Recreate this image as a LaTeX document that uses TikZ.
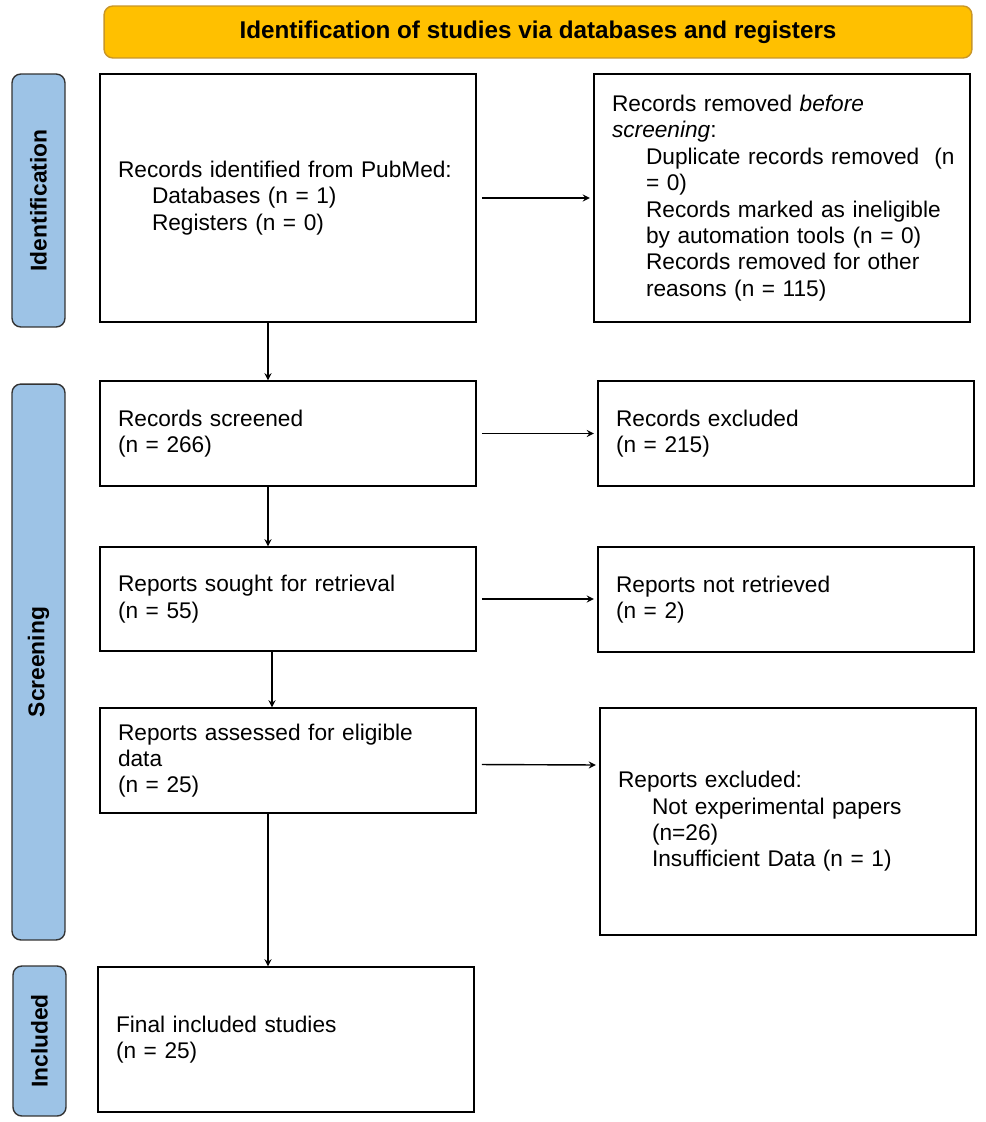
\documentclass[tikz,border=0pt]{standalone}
\usepackage{fontspec}
\setmainfont{Liberation Sans}
\usetikzlibrary{arrows}
\definecolor{hdrcolor}{RGB}{255,192,0}
\definecolor{hdrline}{RGB}{200,150,40}
\definecolor{sidecolor}{RGB}{157,195,230}
\newcommand{\ind}{\hspace*{1.5em}}

\begin{document}
\begin{tikzpicture}[>=stealth,x=0.02cm,y=-0.02cm,
  box/.style={draw,thick,align=left,inner sep=0pt,text width=#1,
    font=\fontsize{12.9}{15}\selectfont},
  side/.style={draw=black!80,thick,fill=sidecolor,rounded corners=5pt,
    minimum height=1.06cm,rotate=90,font=\bfseries\fontsize{13}{15}\selectfont},
  arr/.style={->,thick,shorten <=3pt,shorten >=2pt}]
\useasboundingbox (0,0) rectangle (986,1122);
\node[draw=hdrline,thick,fill=hdrcolor,rounded corners=5pt,minimum width=17.36cm,
  minimum height=1.04cm,font=\bfseries\fontsize{13.8}{16}\selectfont] (hdr) at (538,32)
  {Identification of studies via databases and registers};
\node[side,minimum width=5.06cm] (sid) at (38.5,200.5) {Identification};
\node[side,minimum width=11.12cm] (ssc) at (38.5,662) {Screening};
\node[side,minimum width=3.0cm] (sin) at (39.5,1041) {Included};
\node[box=7.52cm,minimum height=4.96cm] (ident) at (288,198)
  {\hspace*{0.36cm}Records identified from PubMed:\\
   \hspace*{0.36cm}\ind Databases (n = 1)\\
   \hspace*{0.36cm}\ind Registers (n = 0)};
\node[box=7.52cm,minimum height=4.96cm] (removed) at (782,198)
  {\hspace*{0.36cm}Records removed \emph{before}\\
   \hspace*{0.36cm}\emph{screening}:\\
   \hspace*{0.36cm}\ind Duplicate records removed\ \ (n\\
   \hspace*{0.36cm}\ind = 0)\\
   \hspace*{0.36cm}\ind Records marked as ineligible\\
   \hspace*{0.36cm}\ind by automation tools (n = 0)\\
   \hspace*{0.36cm}\ind Records removed for other\\
   \hspace*{0.36cm}\ind reasons (n = 115)};
\node[box=7.52cm,minimum height=2.1cm] (screened) at (288,433.5)
  {\hspace*{0.36cm}Records screened\\ \hspace*{0.36cm}(n = 266)};
\node[box=7.52cm,minimum height=2.1cm] (excl) at (786,433.5)
  {\hspace*{0.36cm}Records excluded\\ \hspace*{0.36cm}(n = 215)};
\node[box=7.52cm,minimum height=2.08cm] (sought) at (288,599)
  {\hspace*{0.36cm}Reports sought for retrieval\\ \hspace*{0.36cm}(n = 55)};
\node[box=7.52cm,minimum height=2.1cm] (notret) at (786,599.5)
  {\hspace*{0.36cm}Reports not retrieved\\ \hspace*{0.36cm}(n = 2)};
\node[box=7.52cm,minimum height=2.1cm] (assessed) at (288,760.5)
  {\hspace*{0.36cm}Reports assessed for eligible\\ \hspace*{0.36cm}data\\
   \hspace*{0.36cm}(n = 25)};
\node[box=7.52cm,minimum height=4.54cm] (repexcl) at (788,821.5)
  {\hspace*{0.36cm}Reports excluded:\\
   \hspace*{0.36cm}\ind Not experimental papers\\
   \hspace*{0.36cm}\ind (n=26)\\
   \hspace*{0.36cm}\ind Insufficient Data (n = 1)};
\node[box=7.52cm,minimum height=2.9cm] (final) at (286,1039.5)
  {\hspace*{0.36cm}Final included studies\\ \hspace*{0.36cm}(n = 25)};
\draw[arr] (ident.east) -- (removed.west);
\draw[arr] (screened.east) -- (excl.west |- screened.east);
\draw[arr] (sought.east) -- (notret.west |- sought.east);
\draw[arr] ([yshift=-0.08cm]assessed.east) -- (repexcl.west |- 0,765);
\draw[->,thick] (ident.south -| 268,0) -- (screened.north -| 268,0);
\draw[->,thick] (screened.south -| 268,0) -- (sought.north -| 268,0);
\draw[->,thick] (sought.south -| 272,0) -- (assessed.north -| 272,0);
\draw[->,thick] (assessed.south -| 268,0) -- (final.north -| 268,0);
\end{tikzpicture}
\end{document}
